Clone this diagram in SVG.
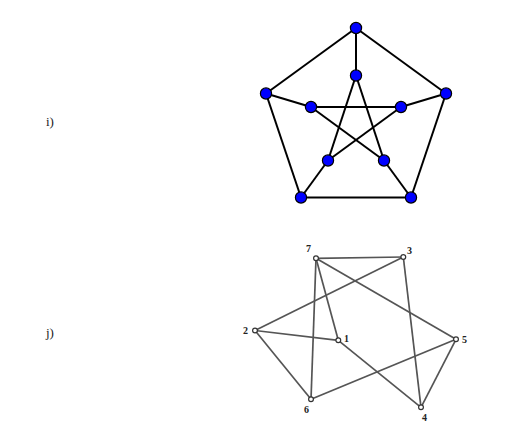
<svg xmlns="http://www.w3.org/2000/svg" width="526" height="430" viewBox="0 0 526 430">
<style>
.lbl{font-family:"Liberation Serif",serif;font-size:13px;fill:#222}
.e1{stroke:#000;stroke-width:2;fill:none}
.n1{fill:#0000ff;stroke:#000;stroke-width:1.2}
.e2{stroke:#555;stroke-width:1.7;fill:none}
.n2{fill:#fff;stroke:#333;stroke-width:1.2}
.nl{font-family:"Liberation Serif",serif;font-size:10px;font-weight:bold;fill:#222}
</style>
<rect width="526" height="430" fill="#fff"/>
<text class="lbl" x="46" y="126">i)</text>
<text class="lbl" x="46" y="337">j)</text>
<g id="petersen-edges">
<line class="e1" x1="356" y1="28" x2="266" y2="93.5"/>
<line class="e1" x1="356" y1="28" x2="446" y2="93.5"/>
<line class="e1" x1="266" y1="93.5" x2="301" y2="197.5"/>
<line class="e1" x1="446" y1="93.5" x2="411" y2="197.5"/>
<line class="e1" x1="301" y1="197.5" x2="411" y2="197.5"/>
<line class="e1" x1="356" y1="28" x2="356" y2="75.5"/>
<line class="e1" x1="266" y1="93.5" x2="311" y2="107"/>
<line class="e1" x1="446" y1="93.5" x2="401" y2="107"/>
<line class="e1" x1="301" y1="197.5" x2="328" y2="160.5"/>
<line class="e1" x1="411" y1="197.5" x2="384" y2="160.5"/>
<line class="e1" x1="356" y1="75.5" x2="328" y2="160.5"/>
<line class="e1" x1="356" y1="75.5" x2="384" y2="160.5"/>
<line class="e1" x1="311" y1="107" x2="401" y2="107"/>
<line class="e1" x1="311" y1="107" x2="384" y2="160.5"/>
<line class="e1" x1="401" y1="107" x2="328" y2="160.5"/>
</g>
<g id="p-top"><circle class="n1" cx="356" cy="28" r="5.6"/></g>
<g id="p-left"><circle class="n1" cx="266" cy="93.5" r="5.6"/></g>
<g id="p-right"><circle class="n1" cx="446" cy="93.5" r="5.6"/></g>
<g id="p-bl"><circle class="n1" cx="301" cy="197.5" r="5.6"/></g>
<g id="p-br"><circle class="n1" cx="411" cy="197.5" r="5.6"/></g>
<g id="p-itop"><circle class="n1" cx="356" cy="75.5" r="5.6"/></g>
<g id="p-ileft"><circle class="n1" cx="311" cy="107" r="5.6"/></g>
<g id="p-iright"><circle class="n1" cx="401" cy="107" r="5.6"/></g>
<g id="p-ibl"><circle class="n1" cx="328" cy="160.5" r="5.6"/></g>
<g id="p-ibr"><circle class="n1" cx="384" cy="160.5" r="5.6"/></g>
<g id="graph-j-edges">
<line class="e2" x1="316" y1="258.3" x2="403.3" y2="257"/>
<line class="e2" x1="316" y1="258.3" x2="311" y2="399.3"/>
<line class="e2" x1="316" y1="258.3" x2="338.3" y2="340.3"/>
<line class="e2" x1="316" y1="258.3" x2="456" y2="339.3"/>
<line class="e2" x1="403.3" y1="257" x2="255" y2="330.5"/>
<line class="e2" x1="403.3" y1="257" x2="421" y2="407.3"/>
<line class="e2" x1="255" y1="330.5" x2="338.3" y2="340.3"/>
<line class="e2" x1="255" y1="330.5" x2="311" y2="399.3"/>
<line class="e2" x1="338.3" y1="340.3" x2="421" y2="407.3"/>
<line class="e2" x1="311" y1="399.3" x2="456" y2="339.3"/>
<line class="e2" x1="456" y1="339.3" x2="421" y2="407.3"/>
</g>
<g id="j1"><circle class="n2" cx="338.3" cy="340.3" r="2.4"/><text class="nl" x="344" y="342">1</text></g>
<g id="j2"><circle class="n2" cx="255" cy="330.5" r="2.4"/><text class="nl" x="243" y="334">2</text></g>
<g id="j3"><circle class="n2" cx="403.3" cy="257" r="2.4"/><text class="nl" x="407" y="254">3</text></g>
<g id="j4"><circle class="n2" cx="421" cy="407.3" r="2.4"/><text class="nl" x="422" y="421">4</text></g>
<g id="j5"><circle class="n2" cx="456" cy="339.3" r="2.4"/><text class="nl" x="462" y="343">5</text></g>
<g id="j6"><circle class="n2" cx="311" cy="399.3" r="2.4"/><text class="nl" x="304" y="413">6</text></g>
<g id="j7"><circle class="n2" cx="316" cy="258.3" r="2.4"/><text class="nl" x="306" y="252">7</text></g>
</svg>
